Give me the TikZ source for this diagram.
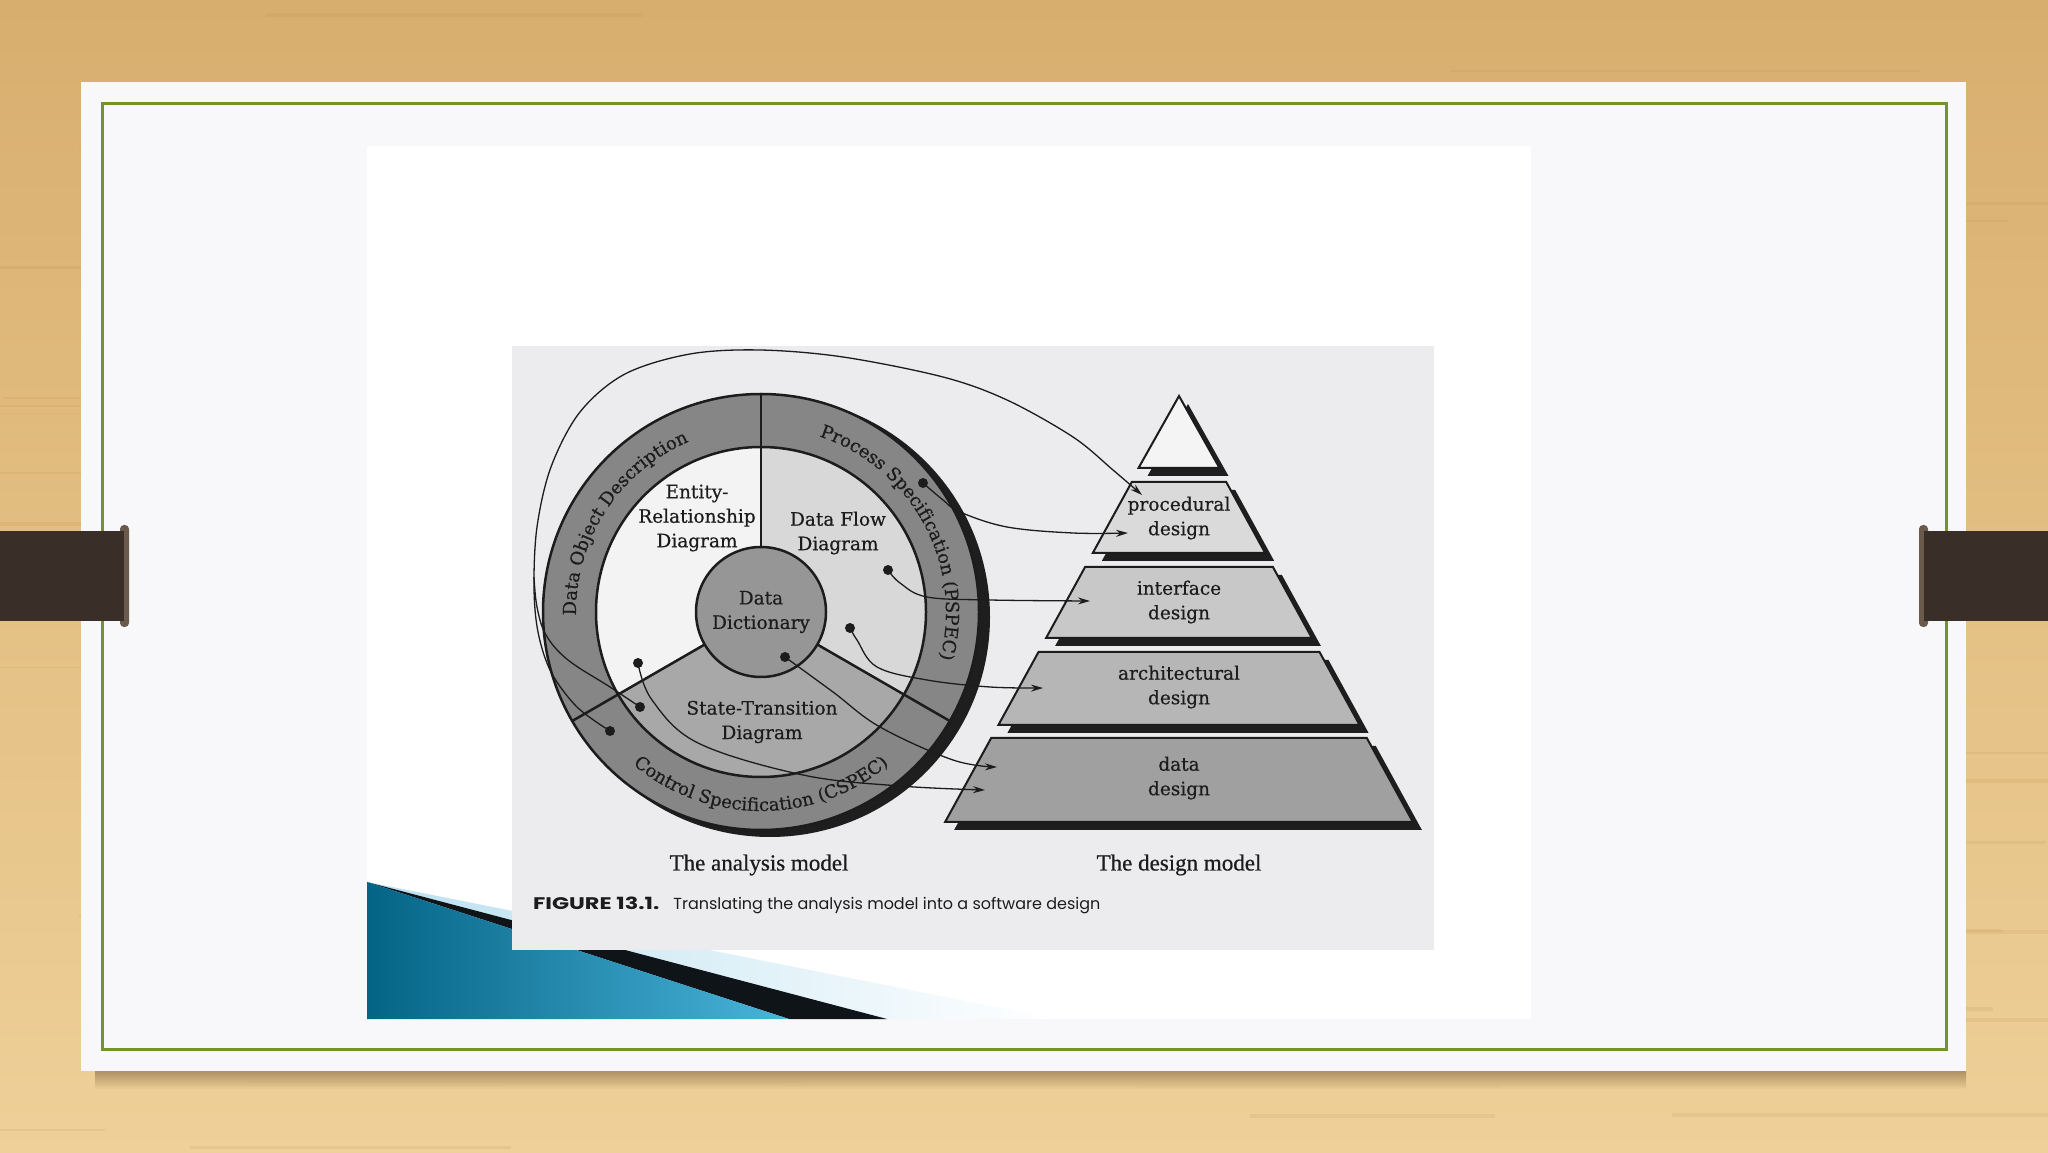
\documentclass[tikz,border=0pt]{standalone}
\usepackage{fontspec}
\newfontfamily\figfont[FakeBold=0.5]{DejaVu Serif}
\newfontfamily\labfont[FakeBold=0.6]{Liberation Serif}
\newfontfamily\capfont{Poppins}
\usetikzlibrary{decorations.text,arrows.meta}
\definecolor{woodtop}{RGB}{216,174,110}
\definecolor{woodbot}{RGB}{238,208,152}
\definecolor{woodstreak}{RGB}{185,138,72}
\definecolor{slidebg}{RGB}{248,248,250}
\definecolor{slideshadow}{RGB}{160,130,88}
\definecolor{greenline}{RGB}{118,146,42}
\definecolor{tabcol}{RGB}{58,46,40}
\definecolor{knobcol}{RGB}{105,90,76}
\definecolor{figbg}{RGB}{236,236,238}
\definecolor{ringcol}{RGB}{134,134,134}
\definecolor{ercol}{RGB}{243,243,243}
\definecolor{dfdcol}{RGB}{216,216,216}
\definecolor{stcol}{RGB}{168,168,168}
\definecolor{ddcol}{RGB}{150,150,150}
\definecolor{inkcol}{RGB}{28,28,28}
\definecolor{shadowcol}{RGB}{30,30,30}
\definecolor{pyrA}{RGB}{244,244,244}
\definecolor{pyrB}{RGB}{218,218,218}
\definecolor{pyrC}{RGB}{200,200,200}
\definecolor{pyrD}{RGB}{182,182,182}
\definecolor{pyrE}{RGB}{160,160,160}
\definecolor{bluedark}{RGB}{4,100,134}
\definecolor{bluelight}{RGB}{74,180,218}
\definecolor{bluepale}{RGB}{186,224,240}
\definecolor{blackband}{RGB}{15,20,25}
\newcommand\ringfmt{\figfont\fontsize{18}{20}\selectfont\color{inkcol}}
\newcommand\pyrlayer[5]{%
  \fill[shadowcol] ({1179-#2+9},{#1-8}) -- ({1179+#2+9},{#1-8}) -- ({1179+#4+9},{#3-8}) -- ({1179-#4+9},{#3-8}) -- cycle;
  \filldraw[layer, fill=#5] ({1179-#2},#1) -- ({1179+#2},#1) -- ({1179+#4},#3) -- ({1179-#4},#3) -- cycle;}
\tikzset{
  figtext/.style={font=\figfont\fontsize{18.5}{24.5}\selectfont, align=center, text=inkcol, inner sep=0pt},
  labtext/.style={font=\labfont\fontsize{23}{26}\selectfont, text=inkcol, inner sep=0pt},
  captext/.style={font=\capfont\fontsize{16}{19}\selectfont, text=inkcol, inner sep=0pt, anchor=base west},
  ink/.style={draw=inkcol, line width=2.5pt},
  conn/.style={draw=inkcol, line width=1.3pt, -{Stealth[length=12pt,width=7pt]}},
  dotmark/.style={circle, fill=inkcol, minimum size=10pt, inner sep=0pt},
  layer/.style={draw=inkcol, line width=2pt, line join=miter},
}
\begin{document}
\begin{tikzpicture}[x=1pt,y=1pt]
\useasboundingbox (0,0) rectangle (2048,1152);
% wood background
\shade[top color=woodtop, bottom color=woodbot] (0,0) rectangle (2048,1152);
\pgfmathsetseed{7}
\foreach \i in {1,...,90}{
  \pgfmathsetmacro{\yy}{rnd*1152}
  \pgfmathsetmacro{\xx}{rnd*2048-200}
  \pgfmathsetmacro{\ll}{150+rnd*500}
  \pgfmathsetmacro{\ww}{1+rnd*3}
  \draw[woodstreak, line width=\ww pt, opacity=0.14] (\xx,\yy) -- ++(\ll,0);
}
% slide
\shade[top color=slideshadow, bottom color=woodbot, opacity=0.8] (95,62) rectangle (1966,81);
\fill[slidebg] (81,81) rectangle (1966,1070);
\draw[greenline, line width=3pt] (102,103) rectangle (1946,1048);
% picture area
\fill[white] (367,133) rectangle (1531,1006);
\shade[left color=bluepale, right color=white] (367,270) -- (1056,133) -- (887,133) -- cycle;
\fill[blackband] (367,270) -- (887,133) -- (789,133) -- cycle;
\shade[left color=bluedark, right color=bluelight] (367,270) -- (789,133) -- (367,133) -- cycle;
% grey figure
\fill[figbg] (512,202) rectangle (1434,806);
% analysis model wheel
\coordinate (C) at (761,540);
\fill[shadowcol] (770,535) circle[radius=220];
\fill[ringcol] (C) circle[radius=218];
\fill[ercol] (C) -- ++(90:165) arc[start angle=90, end angle=210, radius=165] -- cycle;
\fill[dfdcol] (C) -- ++(-30:165) arc[start angle=-30, end angle=90, radius=165] -- cycle;
\fill[stcol] (C) -- ++(210:165) arc[start angle=210, end angle=330, radius=165] -- cycle;
\draw[ink] (C) circle[radius=218];
\draw[ink] (C) circle[radius=165];
\draw[ink] (C) ++(90:65) -- ++(90:153);
\draw[ink] (C) ++(210:65) -- ++(210:153);
\draw[ink] (C) ++(330:65) -- ++(330:153);
\node[circle, minimum size=130pt, fill=ddcol, ink, figtext] (DD) at (C) {Data\\Dictionary};
% ring texts
\path[decorate, decoration={text along path, text align=center, text={|\ringfmt|Data Object Description}}]
  ([shift={(200:185)}]C) arc[start angle=200, end angle=94, radius=185];
\path[decorate, decoration={text along path, text align=center, text={|\ringfmt|Process Specification (PSPEC)}}]
  ([shift={(88:185)}]C) arc[start angle=88, end angle=-31, radius=185];
\path[decorate, decoration={text along path, text align=center, text={|\ringfmt|Control Specification (CSPEC)}}]
  ([shift={(212:199)}]C) arc[start angle=212, end angle=328, radius=199];
% sector texts
\node[figtext] (ER) at (697,634) {Entity-\\Relationship\\Diagram};
\node[figtext] (DFD) at (838,619) {Data Flow\\Diagram};
\node[figtext] (ST) at (762,430) {State-Transition\\Diagram};
% design model pyramid
\pyrlayer{756}{0}{684}{40.5}{pyrA}
\pyrlayer{670}{47.2}{599}{86.2}{pyrB}
\pyrlayer{585}{93.9}{514}{132.9}{pyrC}
\pyrlayer{500}{140.5}{427}{180.6}{pyrD}
\pyrlayer{414}{187.8}{330}{233.9}{pyrE}
\node[figtext] (proc) at (1179,634) {procedural\\design};
\node[figtext] (intf) at (1179,550) {interface\\design};
\node[figtext] (arch) at (1179,465) {architectural\\design};
\node[figtext] (data) at (1179,374) {data\\design};
% dots
\node[dotmark] (dP) at (923,669) {};
\node[dotmark] (dF) at (888,582) {};
\node[dotmark] (dR) at (850,524) {};
\node[dotmark] (dB) at (785,495) {};
\node[dotmark] (dA) at (638,489) {};
\node[dotmark] (dS) at (640,445) {};
\node[dotmark] (dC) at (610,421) {};
% arrow targets
\coordinate (tTop) at (1142,657);
\coordinate (tProc) at (1128,619);
\coordinate (tIntf) at (1090,551);
\coordinate (tArch) at (1043,464);
\coordinate (tData) at (997,385);
\coordinate (tData2) at (985,362);
\coordinate (M) at (534,575);
% connectors
\draw[conn] plot[smooth, tension=0.55] coordinates {(dC.center) (577,445) (551,480) (538,520) (534,565) (537,625) (551,685) (580,740) (625,778) (690,798) (760,802) (843,795) (943,775) (1007,752) (1073,715) (1113,682) (tTop)};
\draw[draw=inkcol, line width=1.3pt] plot[smooth, tension=0.6] coordinates {(dS.center) (610,465) (568,492) (546,517) (537,545) (M)};
\draw[conn] plot[smooth, tension=0.6] coordinates {(dP.center) (943,652) (960,640) (1007,625) (1073,619) (tProc)};
\draw[conn] plot[smooth, tension=0.6] coordinates {(dF.center) (900,569) (927,555) (990,552) (tIntf)};
\draw[conn] plot[smooth, tension=0.6] coordinates {(dR.center) (857,512) (877,485) (927,472) (990,465) (tArch)};
\draw[conn] plot[smooth, tension=0.6] coordinates {(dB.center) (833,460) (880,425) (953,392) (tData)};
\draw[conn] plot[smooth, tension=0.6] coordinates {(dA.center) (652,452) (698,409) (803,377) (900,366) (tData2)};
% labels
\node[labtext] (anl) at (759,287) {The analysis model};
\node[labtext] (dsg) at (1179,287) {The design model};
\node[captext] (cap) at (533,243) {\scalebox{1.4}[1.05]{\textbf{FIGURE 13.1.}}\hspace{14pt}Translating the analysis model into a software design};
% tabs
\fill[knobcol, rounded corners=4pt] (120,525) rectangle (129,627);
\fill[tabcol] (0,531) rectangle (124,621);
\fill[knobcol, rounded corners=4pt] (1919,525) rectangle (1928,627);
\fill[tabcol] (1924,531) rectangle (2048,621);
\end{tikzpicture}
\end{document}
